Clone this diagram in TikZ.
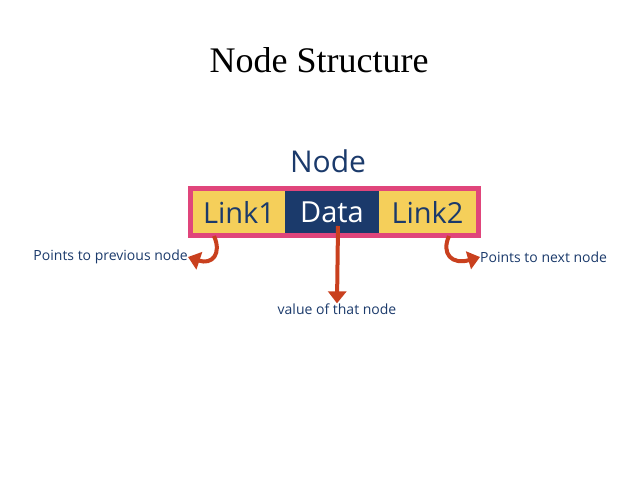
\documentclass[tikz,border=0pt]{standalone}
\usepackage{fontspec}
\setmainfont{Liberation Serif}
\newfontfamily\sans{Open Sans}
\usetikzlibrary{arrows.meta}
\definecolor{navy}{HTML}{1B3A6B}
\definecolor{pinkc}{HTML}{E0457B}
\definecolor{yel}{HTML}{F5CF5A}
\definecolor{redc}{HTML}{C9401E}
\begin{document}
\begin{tikzpicture}[x=1pt,y=-1pt,
  lbl/.style={font=\sans\fontsize{14}{16}\selectfont, text=navy, inner sep=0pt},
  arr/.style={draw=redc, line width=4pt, -{Triangle[length=12pt,width=18pt]}},
  cell/.style={minimum height=42pt, inner sep=0pt, font=\sans\fontsize{29}{32}\selectfont}]
\useasboundingbox (0,0) rectangle (638,478);
\node (title) at (319,60) {\fontsize{36}{40}\selectfont Node Structure};
\node[font=\sans\fontsize{30}{32}\selectfont, text=navy] (nlab) at (328,161) {Node};
\node[draw=pinkc, line width=5pt, minimum width=288pt, minimum height=47pt, inner sep=0pt] (frame) at (334.5,212) {};
\node[cell, fill=yel, text=navy, minimum width=92pt] (l1) at (239,212) {Link1};
\node[cell, fill=navy, text=white, minimum width=94pt] (data) at (332,212) {Data};
\node[cell, fill=yel, text=navy, minimum width=97pt] (l2) at (427.5,212) {Link2};
\node[lbl, anchor=east] (prev) at (188,257) {Points to previous node};
\node[lbl, anchor=west] (next) at (480,257) {Points to next node};
\node[lbl] (val) at (337,309) {value of that node};
\coordinate (a1) at (214,236);
\coordinate (a2) at (449,236);
\coordinate (a3) at (338,226);
\draw[arr] (a1) .. controls (222,254) and (212,265) .. (prev.east);
\draw[arr] (a2) .. controls (441,254) and (452,265) .. (next.west);
\draw[arr] (a3) -- (val.north);
\end{tikzpicture}
\end{document}
